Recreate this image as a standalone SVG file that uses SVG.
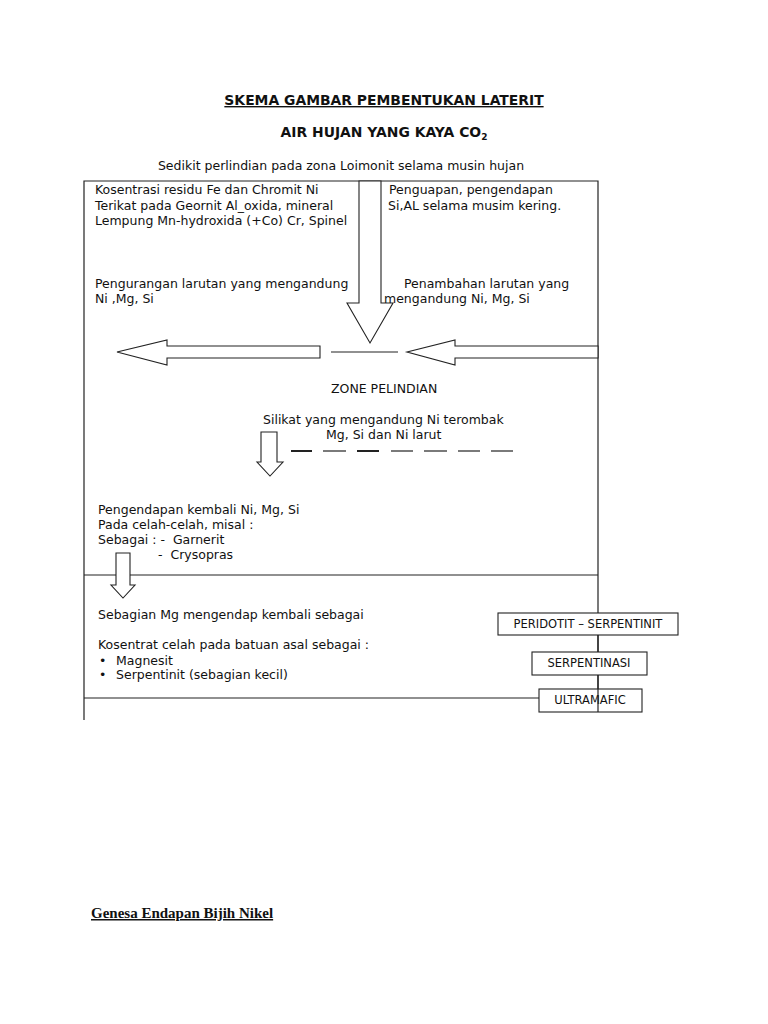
<svg xmlns="http://www.w3.org/2000/svg" width="768" height="1024" viewBox="0 0 768 1024">
<style>
text{font-family:"DejaVu Sans","Noto Sans",sans-serif;font-size:12.5px;fill:#111}
.t{font-weight:bold;font-size:13.9px}
.s{font-family:"Liberation Serif","DejaVu Serif",serif;font-weight:bold;font-size:15px}
.bx text{font-size:11.5px}
.ln{stroke:#222;stroke-width:1.2;fill:none}
.ar{stroke:#222;stroke-width:1.1;fill:#fff}
.bx rect{fill:#fff;stroke:#222;stroke-width:1.1}
</style>
<rect width="768" height="1024" fill="#fff"/>
<g id="titles">
<text class="t" x="384" y="105" text-anchor="middle" text-decoration="underline">SKEMA GAMBAR PEMBENTUKAN LATERIT</text>
<text class="t" x="384" y="137" text-anchor="middle">AIR HUJAN YANG KAYA CO<tspan font-size="9" dy="3">2</tspan></text>
<text x="341" y="170" text-anchor="middle">Sedikit perlindian pada zona Loimonit selama musin hujan</text>
</g>
<g id="frame">
<polyline class="ln" points="84,720 84,181 598,181 598,712"/>
<line class="ln" x1="84" y1="575" x2="598" y2="575"/>
<line class="ln" x1="84" y1="698" x2="540" y2="698"/>
</g>
<g id="connectors">
<polygon id="arrow-down-main" class="ar" points="359,181 381,181 381,303 393,303 370,343 347,303 359,303"/>
<polygon id="arrow-left" class="ar" points="320,346 167,346 167,340 117,352 167,365 167,358 320,358"/>
<line class="ln" x1="331" y1="352" x2="398" y2="352"/>
<polygon id="arrow-right-in" class="ar" points="598,346 455,346 455,340 407,352 455,365 455,358 598,358"/>
<polygon id="arrow-down-small" class="ar" points="261,432 277,432 277,462 283,462 270,476 257,462 261,462"/>
<polygon id="arrow-down-small2" class="ar" points="116,553 130,553 130,585 135,585 123,598 111,585 116,585"/>
<g stroke="#222">
<line x1="291" y1="451" x2="312" y2="451" stroke-width="2"/>
<line x1="323" y1="451" x2="346" y2="451" stroke-width="1.2"/>
<line x1="357" y1="451" x2="379" y2="451" stroke-width="2"/>
<line x1="391" y1="451" x2="413" y2="451" stroke-width="1.2"/>
<line x1="424" y1="451" x2="447" y2="451" stroke-width="1.2"/>
<line x1="458" y1="451" x2="480" y2="451" stroke-width="1.2"/>
<line x1="491" y1="451" x2="513" y2="451" stroke-width="1.2"/>
</g>
</g>
<g id="top-left">
<text x="95" y="194">Kosentrasi residu Fe dan Chromit Ni</text>
<text x="95" y="210">Terikat pada Geornit Al_oxida, mineral</text>
<text x="95" y="225">Lempung Mn-hydroxida (+Co) Cr, Spinel</text>
</g>
<g id="top-right">
<text x="389" y="194">Penguapan, pengendapan</text>
<text x="388" y="210">Si,AL selama musim kering.</text>
</g>
<g id="reduction">
<text x="95" y="288">Pengurangan larutan yang mengandung</text>
<text x="95" y="303">Ni ,Mg, Si</text>
</g>
<g id="addition">
<text x="404" y="288">Penambahan larutan yang</text>
<text x="384" y="303">mengandung Ni, Mg, Si</text>
</g>
<g id="zone">
<text x="331" y="393">ZONE PELINDIAN</text>
<text x="263" y="424">Silikat yang mengandung Ni terombak</text>
<text x="326" y="439">Mg, Si dan Ni larut</text>
</g>
<g id="reprecip">
<text x="98" y="514">Pengendapan kembali Ni, Mg, Si</text>
<text x="98" y="529">Pada celah-celah, misal :</text>
<text x="98" y="544" xml:space="preserve">Sebagai : -  Garnerit</text>
<text x="158" y="559" xml:space="preserve">-  Crysopras</text>
</g>
<g id="lower">
<text x="98" y="619">Sebagian Mg mengendap kembali sebagai</text>
<text x="98" y="649">Kosentrat celah pada batuan asal sebagai :</text>
<text x="99" y="665">•</text><text x="116" y="665">Magnesit</text>
<text x="99" y="679">•</text><text x="116" y="679">Serpentinit (sebagian kecil)</text>
</g>
<g id="peridotit" class="bx">
<rect x="498" y="613" width="180" height="22"/>
<text x="588" y="628" text-anchor="middle">PERIDOTIT – SERPENTINIT</text>
</g>
<g id="serpentinasi" class="bx">
<rect x="532" y="652" width="115" height="23"/>
<text x="589" y="667" text-anchor="middle">SERPENTINASI</text>
</g>
<g id="ultramafic" class="bx">
<rect x="539" y="689" width="103" height="23"/>
<text x="590" y="704" text-anchor="middle">ULTRAMAFIC</text>
</g>
<line class="ln" x1="598" y1="635" x2="598" y2="652"/>
<line class="ln" x1="598" y1="675" x2="598" y2="712"/>
<text class="s" x="91" y="918" text-decoration="underline">Genesa Endapan Bijih Nikel</text>
</svg>
